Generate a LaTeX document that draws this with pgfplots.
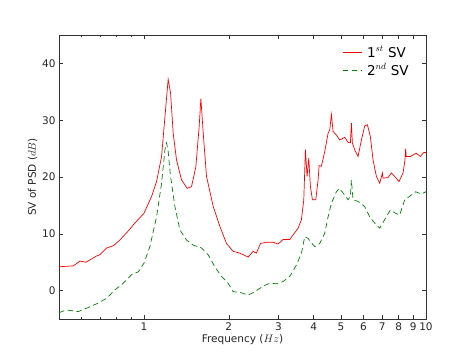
\documentclass[border=0pt]{standalone}
\usepackage{pgfplots}
\pgfplotsset{compat=1.18}
\usepackage{fontspec}
\setmainfont{DejaVu Sans}
\definecolor{mplred}{RGB}{255,0,0}
\definecolor{mplgreen}{RGB}{0,128,0}
\begin{document}
\begin{tikzpicture}[x=1pt,y=1pt]
\path (-59,-36) rectangle (415,319);
\begin{axis}[
  at={(0,0)}, anchor=south west,
  scale only axis, width=367pt, height=284pt,
  xmode=log, xmin=0.5, xmax=10, ymin=-5, ymax=45,
  xtick={1,2,3,4,5,6,7,8,9,10},
  xticklabels={1,2,3,4,5,6,7,8,9,10},
  minor xtick={0.5,0.6,0.7,0.8,0.9},
  ytick={0,10,20,30,40},
  tick align=inside, major tick length=4pt, minor tick length=2pt,
  tick style={black!80, line width=0.5pt},
  axis line style={black!80, line width=0.8pt},
  /pgf/number format/assume math mode=true,
  tick label style={font=\fontsize{10.5}{12}\selectfont, black!85},
  label style={font=\fontsize{10.5}{12}\selectfont, black!85},
  xlabel={Frequency ($Hz$)},
  ylabel={SV of PSD ($dB$)},
  xlabel style={yshift=3pt},
  ylabel style={yshift=-2pt},
  legend style={at={(0.975,0.975)}, anchor=north east, draw=none, fill=none,
    font=\fontsize{13.5}{15}\selectfont, row sep=1pt,
    nodes={inner xsep=5pt}},
  legend cell align=left,
  legend image code/.code={\draw[#1] (0pt,0pt) -- (19pt,0pt);},
]
\addplot[mplred, line width=0.7pt] coordinates {
(0.5,4.2) (0.562,4.35) (0.593,5.2) (0.623,5.0) (0.68,6.1) (0.698,6.3) (0.738,7.5)
(0.779,7.9) (0.822,8.9) (0.880,10.5) (0.929,11.9) (1.0,13.6) (1.065,16.6)
(1.109,19.2) (1.155,23.6) (1.193,31.8) (1.219,37.2) (1.243,34.8) (1.270,27.7)
(1.305,23.0) (1.359,19.5) (1.424,18.0) (1.475,18.3) (1.528,21.8) (1.570,28.9)
(1.592,33.8) (1.623,27.7) (1.667,20.1) (1.761,14.8) (1.859,11.3) (1.963,8.3)
(2.072,6.9) (2.188,6.6) (2.342,5.9) (2.439,6.9) (2.505,6.6) (2.590,8.3)
(2.720,8.5) (2.872,8.5) (2.99,8.2) (3.115,9.0) (3.289,9.0) (3.380,9.8)
(3.521,11.0) (3.618,12.5) (3.688,16.0) (3.738,24.8) (3.789,20.1) (3.841,23.3)
(3.894,18.3) (3.958,16.0) (4.067,16.0) (4.145,19.5) (4.178,22.0) (4.258,21.9)
(4.376,24.5) (4.497,27.7) (4.559,28.3) (4.621,31.0) (4.684,28.0) (4.813,27.4)
(4.946,26.5) (5.151,27.0) (5.293,26.1) (5.395,26.0) (5.439,29.5) (5.483,26.0)
(5.589,24.8) (5.742,23.6) (5.902,26.5) (6.065,29.0) (6.198,29.2) (6.351,27.1)
(6.491,23.0) (6.671,20.1) (6.856,18.9) (7.006,20.7) (7.04,19.8) (7.334,19.9)
(7.537,20.7) (7.745,20.1) (8.023,19.2) (8.288,20.7) (8.425,23.0) (8.47,25.0)
(8.51,23.6) (8.80,23.6) (9.24,24.2) (9.55,23.6) (9.81,24.3) (10,24.3)
};
\addlegendentry{1$^{st}$ SV}
\addplot[mplgreen, line width=0.7pt, dash pattern=on 5.5pt off 3.5pt] coordinates {
(0.5,-3.88) (0.532,-3.4) (0.585,-3.7) (0.626,-3.1) (0.689,-2.2) (0.738,-1.35)
(0.789,0.1) (0.845,1.3) (0.904,2.8) (0.955,3.3) (1.0,4.8) (1.05,7.75)
(1.109,13.0) (1.155,18.9) (1.187,24.8) (1.203,26.0) (1.219,24.5) (1.243,20.1)
(1.288,14.8) (1.341,10.7) (1.416,8.9) (1.495,8.0) (1.601,7.5) (1.690,6.3)
(1.784,4.2) (1.884,2.5) (1.989,1.3) (2.072,-0.2) (2.188,-0.3) (2.342,-0.8)
(2.473,-0.2) (2.647,0.8) (2.795,1.3) (2.951,1.2) (3.115,1.6) (3.289,2.5)
(3.473,4.5) (3.618,6.6) (3.717,9.5) (3.82,9.2) (3.894,8.6) (4.034,7.75)
(4.202,8.3) (4.376,10.1) (4.497,13.0) (4.621,15.4) (4.813,17.4) (4.919,18.0)
(5.082,17.2) (5.293,16.0) (5.395,16.6) (5.439,19.5) (5.513,16.0) (5.742,15.7)
(6.065,14.8) (6.316,13.0) (6.579,11.9) (6.856,11.0) (7.140,12.5) (7.476,14.2)
(7.808,13.6) (8.068,13.3) (8.404,16.0) (8.753,16.6) (9.192,17.4) (9.627,17.0)
(10,17.4)
};
\addlegendentry{2$^{nd}$ SV}
\end{axis}
\end{tikzpicture}
\end{document}
